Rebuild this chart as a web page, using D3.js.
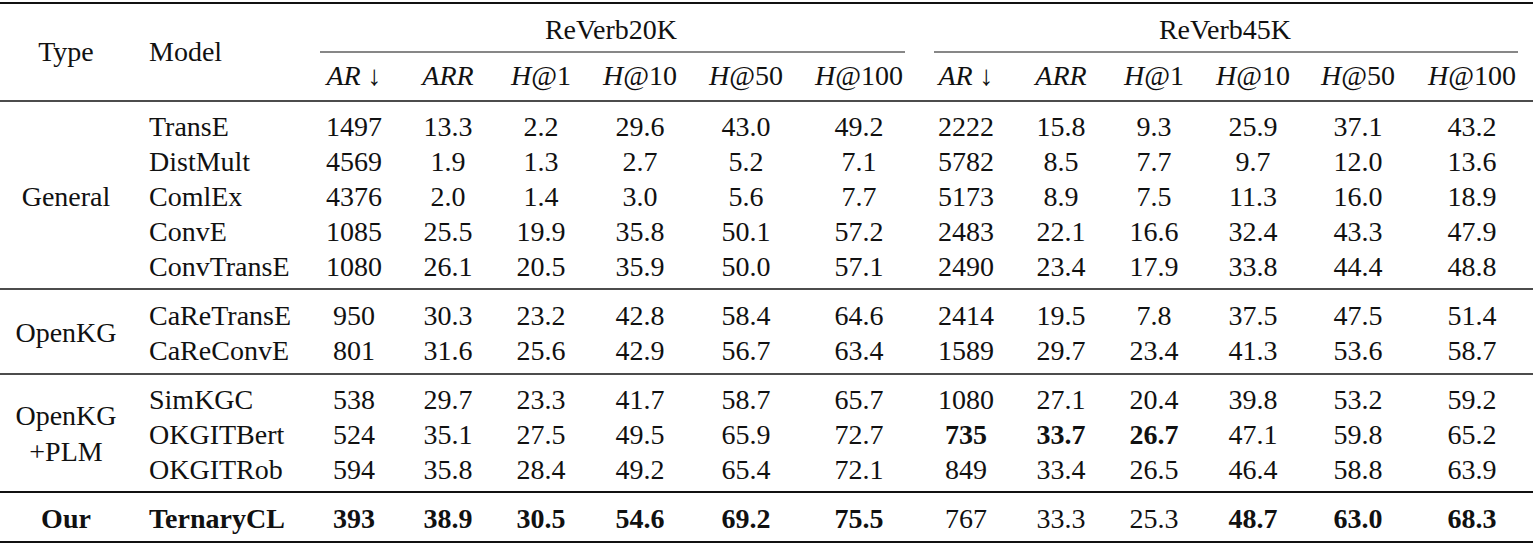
<!DOCTYPE html>
<html><head><meta charset="utf-8">
<script src="https://cdn.jsdelivr.net/npm/d3@7"></script>
<style>body{margin:0;background:#fff}svg{display:block}</style>
</head><body><svg id="c" width="1533" height="544"></svg>
<script>
const datasets = ["ReVerb20K","ReVerb45K"];
const metrics = [["AR"," ↓"],["ARR",""],["H","@1"],["H","@10"],["H","@50"],["H","@100"]];
const groups = ["General","OpenKG","OpenKG+PLM","Our"];
const models = ["TransE","DistMult","ComlEx","ConvE","ConvTransE","CaReTransE","CaReConvE","SimKGC","OKGITBert","OKGITRob","TernaryCL"];
const modelGroup = [0,0,0,0,0,1,1,2,2,2,3];
const values = [
 ["1497","13.3","2.2","29.6","43.0","49.2","2222","15.8","9.3","25.9","37.1","43.2"],
 ["4569","1.9","1.3","2.7","5.2","7.1","5782","8.5","7.7","9.7","12.0","13.6"],
 ["4376","2.0","1.4","3.0","5.6","7.7","5173","8.9","7.5","11.3","16.0","18.9"],
 ["1085","25.5","19.9","35.8","50.1","57.2","2483","22.1","16.6","32.4","43.3","47.9"],
 ["1080","26.1","20.5","35.9","50.0","57.1","2490","23.4","17.9","33.8","44.4","48.8"],
 ["950","30.3","23.2","42.8","58.4","64.6","2414","19.5","7.8","37.5","47.5","51.4"],
 ["801","31.6","25.6","42.9","56.7","63.4","1589","29.7","23.4","41.3","53.6","58.7"],
 ["538","29.7","23.3","41.7","58.7","65.7","1080","27.1","20.4","39.8","53.2","59.2"],
 ["524","35.1","27.5","49.5","65.9","72.7","735","33.7","26.7","47.1","59.8","65.2"],
 ["594","35.8","28.4","49.2","65.4","72.1","849","33.4","26.5","46.4","58.8","63.9"],
 ["393","38.9","30.5","54.6","69.2","75.5","767","33.3","25.3","48.7","63.0","68.3"]
];
const bold = [
 [],[],[],[],[],[],[],[],[6,7,8],[],[0,1,2,3,4,5,9,10,11]
];

const FONT = "'Liberation Serif','Times New Roman',Tinos,'DejaVu Serif',serif";
const svg = d3.select("#c");
const FS = 28;
const colIdx = d3.range(12);
const x = d3.scaleOrdinal().domain(colIdx).range([354,448,541,640,746,859,966,1061,1154,1253,1358,1472]);
function rowY(i){ return 126 + i*35 + modelGroup[i]*14; }

const line=(y,w,x1=0,x2=1533)=>svg.append("line").attr("x1",x1).attr("x2",x2).attr("y1",y).attr("y2",y).attr("stroke","#111").attr("stroke-width",w);
line(3,2.2); line(101,1.6); line(289,1.6); line(374,1.6); line(492,2); line(542,2.2);
line(52,1.2,320,905); line(52,1.2,934,1518);

const txt=(s,xx,yy,opt={})=>svg.append("text").attr("x",xx).attr("y",yy).attr("text-anchor",opt.anchor||"middle")
  .attr("dominant-baseline","central").attr("font-family",FONT).attr("fill","#111").attr("font-size",FS)
  .attr("font-weight",opt.bold?"bold":"normal").text(s);

txt("Type",66,51); txt("Model",149,51,{anchor:"start"});
txt(datasets[0],611,29); txt(datasets[1],1225,29);
colIdx.forEach(j=>{
  const m=metrics[j%6];
  const t=svg.append("text").attr("x",x(j)).attr("y",75).attr("text-anchor","middle").attr("dominant-baseline","central")
    .attr("font-family",FONT).attr("fill","#111").attr("font-size",FS);
  t.append("tspan").attr("font-style","italic").text(m[0]);
  if(m[1]) t.append("tspan").text(m[1]);
});
models.forEach((m,i)=>{
  const yy=rowY(i);
  txt(m,149,yy,{anchor:"start",bold:i===10});
  values[i].forEach((v,j)=>txt(v,x(j),yy,{bold:bold[i].includes(j)}));
});
txt(groups[0],66,rowY(2));
txt(groups[1],66,(rowY(5)+rowY(6))/2);
txt("OpenKG",66,rowY(8)-19); txt("+PLM",66,rowY(8)+17);
txt(groups[3],66,rowY(10),{bold:true});
</script></body></html>
